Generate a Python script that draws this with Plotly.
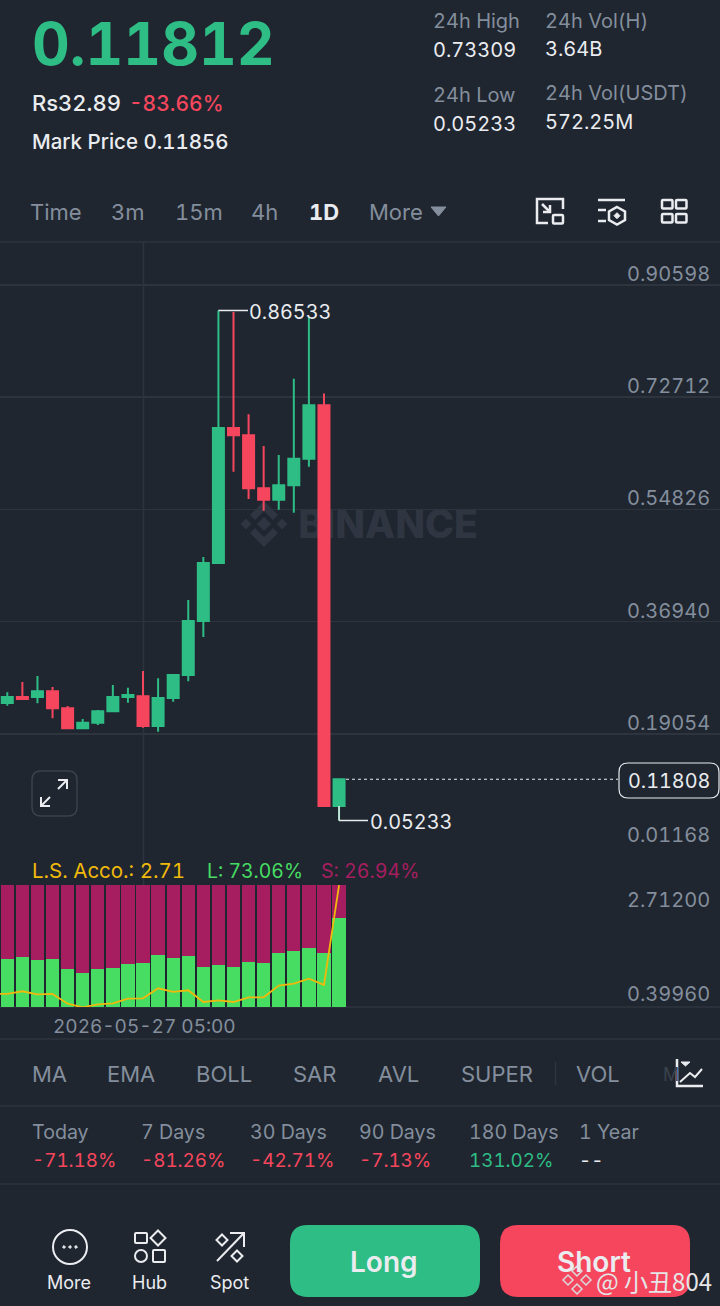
import plotly.graph_objects as go

W, H = 720, 1306
BG = "#1F2630"
GRID = "#2E343E"
GRAY = "#848E9C"
WHITE = "#EAECEF"
GREEN = "#2EBD85"
RED = "#F6465D"
LONG_GREEN = "#47DD62"
SHORT_PINK = "#A61E5F"
YELLOW = "#F0B90B"
FONT = "Inter"

# candles
opens = [.2396, .2492, .2492, .2583, .2312, .1993, .2083, .2264, .2492, .2503, .2030, .2476,
         .2843, .3704, .4628, .6780, .6664, .5819, .5637, .5867, .6291, .7142, .0755]
highs = [.2567, .2731, .2827, .2652, .2349, .2142, .2285, .2683, .2640, .2907, .2790, .2843,
         .4038, .4724, .86533, .8629, .6999, .6493, .6350, .7566, .8534, .73309, .1185]
lows = [.2353, .2460, .2392, .2153, .1993, .1982, .2046, .2248, .2401, .2003, .1939, .2417,
        .2743, .3449, .4628, .6084, .5649, .5462, .5478, .5430, .6163, .0755, .05233]
closes = [.2492, .2460, .2583, .2312, .1993, .2083, .2264, .2492, .2524, .2030, .2476, .2843,
          .3704, .4628, .6780, .6664, .5819, .5637, .5867, .6291, .7142, .0755, .11808]
candle_idx = list(range(23))

price_ticks = [0.90598, 0.72712, 0.54826, 0.36940, 0.19054, 0.01168]
last_price = 0.11808
high_price = 0.86533
low_price = 0.05233

long_pct = [39.2, 40.8, 38.4, 39.2, 31.5, 28.2, 31.0, 31.8, 35.3, 35.9, 42.7, 40.3,
            41.6, 32.6, 34.2, 32.6, 36.7, 36.2, 44.1, 45.8, 48.2, 44.4, 73.06]
short_pct = [60.8, 59.2, 61.6, 60.8, 68.5, 71.8, 69.0, 68.2, 64.7, 64.1, 57.3, 59.7,
             58.4, 67.4, 65.8, 67.4, 63.3, 63.8, 55.9, 54.2, 51.8, 55.6, 26.94]
ratio_idx = list(range(-1, 23))
ratio = [.6467, .6467, .6973, .6403, .6467, .4630, .3933, .4503, .4693, .5580, .5643, .7544, .6847,
         .7164, .4946, .5263, .4946, .5833, .5833, .8050, .8431, .9381, .8177, 2.71]
ratio_ticks = [2.71200, 0.39960]

tabs = ["Time", "3m", "15m", "4h", "1D", "More"]
indicators = ["MA", "EMA", "BOLL", "SAR", "AVL", "SUPER", "VOL"]
periods = ["Today", "7 Days", "30 Days", "90 Days", "180 Days", "1 Year"]
period_values = ["-71.18%", "-81.26%", "-42.71%", "-7.13%", "131.02%", "--"]


# page pixel <-> axis helpers
def to_idx(px):
    return (px - 7.3) / 15.08


def to_price(py):
    return 0.01168 + (846 - py) * 0.0015941


def fx(px):
    return px / W


def fy(py):
    return 1 - py / H


shapes = []
notes = []


def text(x, y, s, size=20, color=WHITE, anchor="left", weight=400, family=FONT):
    notes.append(dict(x=fx(x - 1), y=fy(y), xref="paper", yref="paper", text=s, showarrow=False,
                      xanchor=anchor, yanchor="middle", borderpad=0,
                      font=dict(size=size, color=color, family=family, weight=weight)))


def hline(y, color=GRID, x0=0, x1=W, width=1.5):
    shapes.append(dict(type="line", xref="paper", yref="paper", x0=fx(x0), x1=fx(x1), y0=fy(y), y1=fy(y),
                       line=dict(color=color, width=width), layer="below"))


def path(pts, color=WHITE, width=2, fill=None, closed=False, layer="above"):
    d = "M" + " L".join(f"{fx(a):.5f},{fy(b):.5f}" for a, b in pts)
    if closed:
        d += " Z"
    shapes.append(dict(type="path", xref="paper", yref="paper", path=d, layer=layer,
                       line=dict(color=color, width=width), fillcolor=fill or "rgba(0,0,0,0)"))


def diamond(cx, cy, r, color=WHITE, width=2, fill=None, layer="above"):
    path([(cx, cy - r), (cx + r, cy), (cx, cy + r), (cx - r, cy)], color, width, fill, True, layer)


def rrect(x0, y0, x1, y1, r, color=WHITE, width=2, fill=None, layer="above"):
    a, b, c, d = fx(x0), fx(x1), fy(y0), fy(y1)
    rx, ry = r / W, r / H
    p = (f"M{a + rx:.5f},{c:.5f} L{b - rx:.5f},{c:.5f} Q{b:.5f},{c:.5f} {b:.5f},{c - ry:.5f} "
         f"L{b:.5f},{d + ry:.5f} Q{b:.5f},{d:.5f} {b - rx:.5f},{d:.5f} L{a + rx:.5f},{d:.5f} "
         f"Q{a:.5f},{d:.5f} {a:.5f},{d + ry:.5f} L{a:.5f},{c - ry:.5f} Q{a:.5f},{c:.5f} {a + rx:.5f},{c:.5f} Z")
    shapes.append(dict(type="path", xref="paper", yref="paper", path=p, layer=layer,
                       line=dict(color=color, width=width), fillcolor=fill or "rgba(0,0,0,0)"))


def circle(cx, cy, r, color=WHITE, width=2):
    shapes.append(dict(type="circle", xref="paper", yref="paper", x0=fx(cx - r), x1=fx(cx + r),
                       y0=fy(cy - r), y1=fy(cy + r), line=dict(color=color, width=width)))


###########################
# header
text(32, 44, "0.11812", 58.5, GREEN, weight=700)
text(32, 103, "Rs32.89", 22, WHITE, weight=500)
text(129, 103, "-83.66%", 21, RED, weight=500)
text(32, 142, "Mark Price 0.11856", 20.5, WHITE, weight=500)
text(433, 21, "24h High", 20, GRAY)
text(433, 50, "0.73309", 20)
text(545, 21, "24h Vol(H)", 20, GRAY)
text(545, 49, "3.64B", 20)
text(433, 95, "24h Low", 20, GRAY)
text(433, 124, "0.05233", 20)
text(545, 93, "24h Vol(USDT)", 20, GRAY)
text(545, 122, "572.25M", 20)

# tabs
for name, x in zip(tabs, [30, 111, 175, 251, 309, 369]):
    if name == "1D":
        text(x, 212, name, 22, WHITE, weight=700)
    else:
        text(x, 212, name, 22, GRAY)
path([(431, 207), (446, 207), (438.5, 216)], GRAY, 1, GRAY, True)

# top right icons
path([(563, 209), (563, 199), (537, 199), (537, 223), (548, 223)], WHITE, 2.5)
rrect(553, 215, 563, 223.5, 1, WHITE, 2.5)
path([(542, 204), (550, 212)], WHITE, 2.5)
path([(550, 205), (550, 212), (543, 212)], WHITE, 2.5)
hline(200, WHITE, 598, 625, 2.5)
hline(210, WHITE, 598, 606, 2.5)
hline(221, WHITE, 598, 606, 2.5)
path([(617, 207), (625, 211.5), (625, 220), (617, 224.5), (609, 220), (609, 211.5)], WHITE, 2.5, None, True)
diamond(617, 215.7, 3, WHITE, 1, WHITE)
for x0 in [662, 676]:
    for y0 in [200, 214]:
        rrect(x0, y0, x0 + 10.5, y0 + 8.5, 1, WHITE, 2.5)

# dividers
for y in [242, 1039, 1106, 1184]:
    hline(y)
hline(1007)
shapes.append(dict(type="line", xref="paper", yref="paper", x0=fx(143.5), x1=fx(143.5), y0=fy(242), y1=fy(1007),
                   line=dict(color=GRID, width=1.5), layer="below"))

# watermark logo
wm = "#2F3641"
diamond(264, 524, 7, wm, 0, wm, "below")
diamond(246, 524, 5.5, wm, 0, wm, "below")
diamond(282, 524, 5.5, wm, 0, wm, "below")
path([(264, 501), (278, 515), (273, 520), (264, 511), (255, 520), (250, 515)], wm, 0, wm, True, "below")
path([(264, 547), (278, 533), (273, 528), (264, 537), (255, 528), (250, 533)], wm, 0, wm, True, "below")

# price axis labels, sitting above their grid lines
for v in price_ticks:
    notes.append(dict(x=fx(711), y=v, xref="paper", yref="y2", yshift=11, text=f"{v:.5f}", showarrow=False,
                      xanchor="right", yanchor="middle", borderpad=0,
                      font=dict(size=20, color=GRAY, family=FONT)))

# last price
shapes.append(dict(type="line", xref="paper", yref="y2", x0=fx(346), x1=fx(618), y0=last_price, y1=last_price,
                   line=dict(color=WHITE, width=1, dash="3px,3px")))
rrect(619, 763, 719, 798, 9, WHITE, 1.2, BG)
notes.append(dict(x=fx(669), y=last_price, xref="paper", yref="y2", yshift=-2, text=f"{last_price:.5f}", showarrow=False,
                  xanchor="center", yanchor="middle", borderpad=0, font=dict(size=19.8, color=WHITE, family=FONT)))

# high / low markers
shapes.append(dict(type="line", xref="x2", yref="y2", x0=14, x1=to_idx(248), y0=high_price, y1=high_price,
                   line=dict(color=WHITE, width=1.5)))
shapes.append(dict(type="line", xref="x2", yref="y2", x0=22, x1=to_idx(368), y0=low_price, y1=low_price,
                   line=dict(color=WHITE, width=1.5)))
shapes.append(dict(type="line", xref="x2", yref="y2", x0=22, x1=22, y0=opens[22], y1=low_price,
                   line=dict(color=WHITE, width=1.5)))
notes.append(dict(x=to_idx(248), y=high_price, xref="x2", yref="y2", yshift=-1.5, text=f"{high_price:.5f}", showarrow=False,
                  xanchor="left", yanchor="middle", borderpad=0, font=dict(size=19.8, color=WHITE, family=FONT)))
notes.append(dict(x=to_idx(368.5), y=low_price, xref="x2", yref="y2", yshift=-1, text=f"{low_price:.5f}", showarrow=False,
                  xanchor="left", yanchor="middle", borderpad=0, font=dict(size=19.8, color=WHITE, family=FONT)))

# expand button
rrect(32, 771, 77, 816, 9, "#3A424D", 1.5)
path([(41, 806), (50, 797)], WHITE, 2)
path([(58, 789), (67, 780)], WHITE, 2)
path([(41, 797), (41, 806), (50, 806)], WHITE, 2)
path([(58, 780), (67, 780), (67, 789)], WHITE, 2)

# long/short panel text
text(32, 871, "L.S. Acco.: 2.71", 20.5, YELLOW)
text(207, 871, "L: 73.06%", 19.4, LONG_GREEN)
text(321, 871, "S: 26.94%", 19.6, SHORT_PINK)
for v, y in zip(ratio_ticks, [900, 994]):
    text(712, y, f"{v:.5f}", 20, GRAY, "right")
text(53, 1026, "2026-05-27 05:00", 19, GRAY)

# indicators row
for name, x in zip(indicators, [32, 107, 196, 293, 378, 461, 576]):
    text(x, 1074, name, 22, GRAY)
text(663, 1074, "M", 18, "#3A424D")
shapes.append(dict(type="line", xref="paper", yref="paper", x0=fx(555.5), x1=fx(555.5), y0=fy(1062), y1=fy(1085),
                   line=dict(color=GRID, width=1.5)))
path([(677, 1059), (677, 1086), (703, 1086)], WHITE, 2.5)
path([(680, 1082), (690, 1073), (695, 1077), (702, 1069)], WHITE, 2)
path([(681, 1062), (690, 1062), (685.5, 1066)], WHITE, 1, WHITE, True)

# performance row
for name, val, x in zip(periods, period_values, [32, 141, 250, 359, 469, 579]):
    text(x, 1132, name, 19.6, GRAY)
    if val == "--":
        col = WHITE
    elif val.startswith("-"):
        col = RED
    else:
        col = GREEN
    text(x, 1160, val, 18.8, col)

# bottom nav
circle(70, 1247, 17)
for dx in [-6, 0, 6]:
    diamond(70 + dx, 1247, 1.5, WHITE, 1, WHITE)
text(70, 1282, "More", 18, WHITE, "center")
rrect(135, 1233, 147, 1243, 1)
diamond(158, 1238, 7.5)
circle(141, 1256, 6)
rrect(153, 1250, 165, 1262, 1)
text(150, 1282, "Hub", 18, WHITE, "center")
path([(217, 1261), (244, 1233)])
path([(230, 1233), (244, 1233), (244, 1247)])
diamond(222, 1240, 5.5)
diamond(237, 1256, 5.5)
text(230, 1282, "Spot", 18, WHITE, "center")

rrect(290, 1225, 480, 1297, 18, GREEN, 0, GREEN)
rrect(500, 1225, 690, 1297, 18, RED, 0, RED)
text(385, 1262, "Long", 28, WHITE, "center", 600)
text(595, 1262, "Short", 28, WHITE, "center", 600)

# repost watermark
for dx, dy, r in [(0, -9, 5), (-9, 0, 5), (9, 0, 5), (0, 9, 5)]:
    diamond(577 + dx, 1280 + dy, r, "#D8DADD", 1.5)
text(714, 1280, "@ 小丑804", 24, "#E4E5E7", "right", family="Noto Sans CJK SC")

###########################
fig = go.Figure()

# watermark text goes on the first subplot so the candles paint over it
fig.add_trace(go.Scatter(x=[388], y=[528], mode="text", text=["BINANCE"], textposition="middle center",
                         textfont=dict(size=39, color=wm, family=FONT, weight=800),
                         xaxis="x", yaxis="y", hoverinfo="skip", showlegend=False, cliponaxis=False))

fig.add_trace(go.Candlestick(x=candle_idx, open=opens, high=highs, low=lows, close=closes,
                             increasing=dict(line=dict(color=GREEN, width=2), fillcolor=GREEN),
                             decreasing=dict(line=dict(color=RED, width=2), fillcolor=RED),
                             whiskerwidth=0, xaxis="x2", yaxis="y2", showlegend=False, hoverinfo="skip"))

fig.add_trace(go.Bar(x=candle_idx, y=long_pct, marker=dict(color=LONG_GREEN, line=dict(width=0)),
                     xaxis="x3", yaxis="y3", showlegend=False, hoverinfo="skip"))
fig.add_trace(go.Bar(x=candle_idx, y=short_pct, marker=dict(color=SHORT_PINK, line=dict(width=0)),
                     xaxis="x3", yaxis="y3", showlegend=False, hoverinfo="skip"))
fig.add_trace(go.Scatter(x=ratio_idx, y=ratio, mode="lines", line=dict(color=YELLOW, width=1.8),
                         xaxis="x3", yaxis="y4", showlegend=False, hoverinfo="skip"))

hidden = dict(visible=False, fixedrange=True)
main_dom = [fy(847), fy(242)]
sub_dom = [fy(1007), fy(885)]
x_range = [to_idx(0), to_idx(W)]

fig.update_layout(
    width=W, height=H, margin=dict(l=0, r=0, t=0, b=0), autosize=False,
    paper_bgcolor=BG, plot_bgcolor="rgba(0,0,0,0)",
    barmode="stack", bargap=0.12, boxgap=0.27, boxgroupgap=0, showlegend=False, dragmode=False,
    xaxis=dict(domain=[0, 1], range=[0, W], anchor="y", **hidden),
    yaxis=dict(domain=main_dom, range=[847, 242], anchor="x", **hidden),
    xaxis2=dict(domain=[0, 1], range=x_range, anchor="y2", rangeslider=dict(visible=False), **hidden),
    yaxis2=dict(domain=main_dom, range=[to_price(847), to_price(242)], anchor="x2", side="right",
                tickvals=price_ticks, showticklabels=False, ticks="", showgrid=True,
                gridcolor=GRID, gridwidth=1.5, zeroline=False, showline=False, fixedrange=True),
    xaxis3=dict(domain=[0, 1], range=x_range, anchor="y3", **hidden),
    yaxis3=dict(domain=sub_dom, range=[0, 100], anchor="x3", **hidden),
    yaxis4=dict(domain=sub_dom, range=[ratio_ticks[1], ratio_ticks[0]], anchor="x3", overlaying="y3", **hidden),
    shapes=shapes, annotations=notes,
)

# the app uses fixed width digits. plotly caches text boxes by style, so nudge the
# annotation sizes after adding the css or it keeps the old widths
page_js = """
document.body.style.margin='0';document.body.style.overflow='hidden';
var st=document.createElement('style');
st.textContent='text{font-feature-settings:"tnum" 1 !important}';
document.head.appendChild(st);
var gd=document.getElementsByClassName('plotly-graph-div')[0];
var anns=JSON.parse(JSON.stringify(gd.layout.annotations));
anns.forEach(function(a){a.font.size=a.font.size+0.01;});
Plotly.relayout(gd,{annotations:anns});
"""
fig.write_html("out.html", config=dict(displayModeBar=False, staticPlot=True), post_script=page_js)
